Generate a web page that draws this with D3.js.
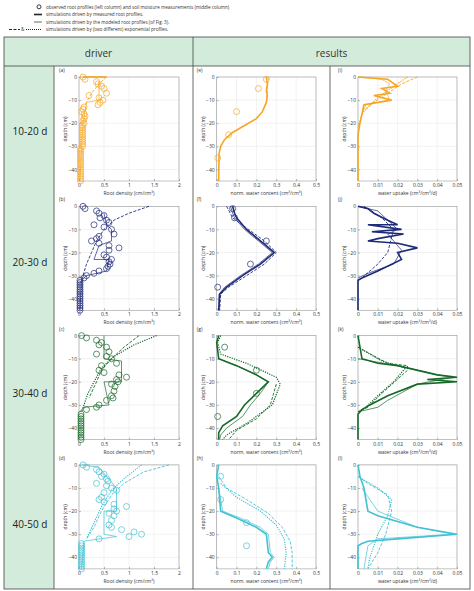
<!DOCTYPE html>
<html><head><meta charset="utf-8">
<script src="https://cdn.jsdelivr.net/npm/d3@7"></script>
<style>body{margin:0;background:#fff}text{font-family:"Open Sans",sans-serif}</style>
</head><body><svg id="c" width="474" height="591"></svg>
<script>
const rowLabels=["10-20 d","20-30 d","30-40 d","40-50 d"];
const colors=["#f6a623","#1f2a78","#17692a","#40c2d2"];
const depthTicks=[0,-10,-20,-30,-40];
const rootTicks=[0,0.5,1,1.5,2], wcTicks=[0,0.1,0.2,0.3,0.4,0.5], upTicks=[0,0.01,0.02,0.03,0.04,0.05];
const panelLetters=[["(a)","(e)","(i)"],["(b)","(f)","(j)"],["(c)","(g)","(k)"],["(d)","(h)","(l)"]];
const deep=[-21,-22,-23,-24,-25,-26,-27,-28,-29,-30,-31,-32,-33,-34,-35,-36,-37,-38,-39,-40,-41,-42,-43,-44,-45];
// observed roots [density, depth]
const obsA=[[0.08,0],[0.12,-1],[0.35,-2],[0.38,-3],[0.45,-4],[0.5,-5],[0.55,-7],[0.2,-8],[0.4,-9],[0.48,-10],[0.42,-11],[0.38,-12],[0.1,-13],[0.08,-14],[0.05,-15],[0.1,-16],[0.12,-17],[0.1,-18],[0.08,-19],[0.1,-20]].concat(deep.map((d,i)=>[i<10?0.07:0.03,d]));
const obsB=[[0.08,0],[0.12,-1],[0.35,-2],[0.4,-3],[0.5,-4],[0.42,-5],[0.55,-6],[0.6,-7],[0.3,-8],[0.5,-9],[0.65,-10],[0.7,-12],[0.4,-13],[0.35,-14],[0.25,-15],[0.4,-16],[0.6,-17],[0.8,-18],[0.6,-19],[0.5,-21],[0.55,-22],[0.65,-23],[0.6,-24],[0.62,-25],[0.58,-26],[0.55,-27],[0.4,-28],[0.3,-29],[0.15,-30],[0.1,-31]].concat(deep.slice(11).map(d=>[0.02,d]));
const obsC=[[0.05,0],[0.15,-1],[0.35,-2],[0.45,-3],[0.4,-4],[0.55,-5],[0.6,-7],[0.35,-8],[0.55,-9],[0.65,-10],[0.75,-12],[0.45,-13],[0.4,-15],[0.5,-16],[0.8,-17],[0.95,-18],[0.75,-19],[0.78,-20],[0.65,-21],[0.72,-22],[0.7,-24],[0.65,-26],[0.68,-27],[0.55,-28],[0.4,-30],[0.35,-31],[0.15,-32]].concat(deep.slice(13).map(d=>[0.04,d]));
const obsD=[[0.08,0],[0.15,-1],[0.35,-2],[0.4,-3],[0.5,-4],[0.45,-5],[0.55,-6],[0.58,-7],[0.35,-8],[0.55,-9],[0.65,-10],[0.75,-11],[0.5,-12],[0.45,-14],[0.4,-15],[0.5,-16],[0.7,-17],[0.95,-18],[0.7,-19],[0.75,-20],[0.6,-21],[0.7,-22],[0.65,-24],[0.6,-26],[0.65,-27],[0.85,-28],[1.1,-29],[1.25,-30],[1.0,-31],[0.4,-32]].concat(deep.slice(13).map(d=>[0.05,d]));
// root profiles: measured (thick), modeled (thin), exponential (dashed, dotted)
const rootA={thick:[[0.08,0],[0.55,0]],thin:[[0.4,-2],[0.4,-10],[0.15,-11],[0.12,-15],[0.08,-20],[0.05,-30],[0.02,-45]],dash:[[0.55,0],[0.4,-3],[0.25,-7],[0.12,-12]],dot:[]};
const rootB={thick:[],thin:[[0.5,-3],[0.55,-8],[0.65,-10],[0.65,-15],[0.4,-17],[0.3,-23],[0.6,-23],[0.55,-28],[0.15,-30],[0.05,-32],[0.02,-45]],dash:[[1.4,0],[1.0,-3],[0.7,-6],[0.5,-10],[0.35,-15],[0.25,-20],[0.15,-25],[0.08,-30],[0.03,-33]],dot:[]};
const rootC={thick:[],thin:[[0.5,0],[0.5,-10],[0.85,-11],[0.85,-20],[0.5,-20],[0.6,-30],[0.1,-31],[0.02,-33]],dash:[[1.2,0],[0.9,-5],[0.65,-10],[0.45,-15],[0.35,-20],[0.2,-27]],dot:[[1.55,0],[1.1,-4],[0.7,-9],[0.45,-14],[0.3,-20],[0.18,-25],[0.1,-30],[0.05,-33]]};
const rootD={thick:[],thin:[[0.05,0],[0.4,-1],[0.55,-5],[0.75,-10],[0.75,-20],[0.5,-20],[0.5,-30],[0.75,-31],[0.1,-33],[0.05,-45]],dash:[[1.8,0],[1.3,-3],[0.9,-8],[0.65,-13],[0.45,-20],[0.3,-27],[0.15,-32]],dot:[[1.25,0],[0.9,-6],[0.65,-11],[0.45,-18],[0.3,-25],[0.15,-32]]};
// water content
const obsE=[[0.25,-1],[0.21,-5],[0.1,-15],[0.06,-25],[0.005,-35]];
const obsF=[[0.08,-1],[0.09,-5],[0.25,-15],[0.17,-25],[0.005,-35]];
const obsG=[[0.04,-5],[0.2,-15],[0.2,-25],[0.005,-35]];
const obsH=[[0.02,-5],[0.02,-15],[0.15,-25],[0.15,-35]];
const wcE={thick:[[0.25,0],[0.255,-3],[0.25,-6],[0.255,-8],[0.25,-11],[0.23,-15],[0.2,-18],[0.14,-21],[0.08,-24],[0.04,-27],[0.02,-30],[0.012,-33],[0.01,-45]],thin:[],dash:[[0.26,0],[0.255,-6],[0.25,-11]],dot:[]};
const wcF={thick:[[0.08,0],[0.09,-3],[0.1,-5],[0.15,-10],[0.22,-15],[0.29,-20],[0.22,-25],[0.13,-30],[0.05,-35],[0.015,-38],[0.01,-45]],thin:[[0.07,0],[0.08,-3],[0.09,-5],[0.14,-10],[0.21,-15],[0.28,-20],[0.21,-25],[0.12,-30],[0.04,-35],[0.012,-38],[0.012,-45]],dash:[[0.05,0],[0.08,-5],[0.16,-10],[0.24,-15],[0.3,-20],[0.24,-25],[0.15,-30],[0.06,-35],[0.02,-38],[0.015,-45]],dot:[]};
const wcG={thick:[[0.01,0],[0.0,-3],[0.01,-10],[0.1,-13],[0.2,-17],[0.26,-20],[0.2,-25],[0.14,-30],[0.1,-35],[0.03,-39],[0.01,-42],[0.01,-45]],thin:[[0.01,-10],[0.1,-13],[0.2,-17],[0.26,-20],[0.22,-25],[0.17,-30],[0.13,-35],[0.05,-40],[0.02,-43],[0.015,-45]],dash:[[0.3,-21],[0.27,-30],[0.2,-36],[0.1,-41],[0.06,-45]],dot:[[0.02,0],[0.005,-3],[0.02,-8],[0.15,-12],[0.3,-18],[0.32,-21],[0.28,-30],[0.15,-38],[0.05,-43],[0.03,-45]]};
const wcH={thick:[[0.01,0],[0,-5],[0.01,-10],[0.02,-20],[0.1,-23],[0.2,-27],[0.25,-30],[0.26,-38],[0.28,-40],[0.26,-42],[0.25,-45]],thin:[[0.01,-10],[0.03,-20],[0.12,-23],[0.22,-27],[0.26,-30],[0.27,-38],[0.29,-40],[0.27,-42],[0.26,-45]],dash:[[0.01,-5],[0.05,-10],[0.15,-15],[0.26,-21],[0.33,-27],[0.37,-33],[0.38,-38],[0.38,-45]],dot:[[0.02,-8],[0.1,-14],[0.22,-20],[0.3,-26],[0.34,-32],[0.35,-38],[0.34,-45]]};
// water uptake
const upI={thick:[[0,0],[0.015,-1],[0.02,-4],[0.012,-5],[0.016,-7],[0.008,-8],[0.017,-10],[0.003,-12],[0.002,-16],[0.001,-20],[0,-25],[0,-45]],thin:[[0,0],[0.012,-1],[0.016,-3],[0.014,-6],[0.016,-10],[0.004,-12],[0.002,-16],[0,-22]],dash:[[0.03,0],[0.022,-3],[0.015,-7],[0.008,-11],[0.004,-14]],dot:[[0.025,0],[0.018,-4],[0.01,-9],[0.005,-13],[0.002,-16]]};
const upJ={thick:[[0,0],[0.005,-1],[0.008,-3],[0.015,-6],[0.02,-8],[0.005,-8],[0.022,-10],[0.007,-11],[0.023,-12],[0.01,-14],[0.005,-15],[0.02,-16],[0.03,-18],[0.02,-20],[0.022,-23],[0.01,-28],[0.002,-31],[0,-32],[0,-45]],thin:[[0,0],[0.01,-2],[0.02,-10],[0.015,-12],[0.022,-19],[0.018,-25],[0.005,-29],[0,-31]],dash:[[0.003,0],[0.012,-5],[0.018,-10],[0.015,-20],[0.01,-25],[0.002,-31]],dot:[]};
const upK={thick:[[0,0],[0.001,-5],[0.002,-10],[0.01,-12],[0.02,-13],[0.04,-17],[0.05,-18],[0.035,-19],[0.05,-20],[0.03,-21],[0.015,-26],[0.006,-30],[0.002,-32],[0,-34],[0,-45]],thin:[[0,-10],[0.02,-13],[0.04,-17],[0.048,-18],[0.03,-21],[0.015,-28],[0.01,-31],[0,-33]],dash:[[0,-5],[0.015,-12],[0.025,-13],[0.025,-15],[0.012,-25],[0.005,-31],[0,-33]],dot:[[0,-5],[0.012,-11],[0.024,-14],[0.018,-20],[0.01,-26],[0.004,-31],[0,-33]]};
const upL={thick:[[0,0],[0.001,-5],[0.003,-10],[0.005,-20],[0.01,-22],[0.03,-27],[0.05,-30],[0.02,-32],[0.005,-33],[0.002,-34],[0,-35],[0,-45]],thin:[[0.002,-10],[0.01,-20],[0.03,-27],[0.048,-30],[0.01,-32],[0.005,-35],[0.003,-45]],dash:[[0,-5],[0.005,-8],[0.015,-13],[0.017,-20],[0.014,-30],[0.01,-38],[0.005,-45]],dot:[[0,-5],[0.01,-10],[0.017,-15],[0.015,-22],[0.01,-30],[0.006,-40],[0.005,-45]]};

const roots=[rootA,rootB,rootC,rootD], obsR=[obsA,obsB,obsC,obsD];
const wcs=[wcE,wcF,wcG,wcH], obsW=[obsE,obsF,obsG,obsH];
const ups=[upI,upJ,upK,upL];

const svg=d3.select("#c");
// legend
const lg=svg.append("g").attr("font-size",4.6).attr("fill","#333");
const legTexts=["observed root profiles (left column) and soil moisture measurements (middle column)","simulations driven by measured root profiles.","simulations driven by the modeled root profiles (of Fig. 3).","simulations driven by (two different) exponential profiles."];
legTexts.forEach((t,i)=>lg.append("text").attr("x",46).attr("y",8.5+i*7.5).text(t));
lg.append("circle").attr("cx",39).attr("cy",6.8).attr("r",2).attr("fill","none").attr("stroke","#222").attr("stroke-width",0.9);
lg.append("line").attr("x1",34).attr("x2",42).attr("y1",14.5).attr("y2",14.5).attr("stroke","#222").attr("stroke-width",1.6);
lg.append("line").attr("x1",34).attr("x2",42).attr("y1",22).attr("y2",22).attr("stroke","#222").attr("stroke-width",0.7);
lg.append("line").attr("x1",9).attr("x2",20).attr("y1",29.5).attr("y2",29.5).attr("stroke","#222").attr("stroke-dasharray","3,1.5");
lg.append("text").attr("x",21).attr("y",31).text("&");
lg.append("line").attr("x1",26).attr("x2",42).attr("y1",29.5).attr("y2",29.5).attr("stroke","#222").attr("stroke-dasharray","1,1");

// table
const T={x0:4,x1:470,y0:37,yh:66,y1:589,cL:54,c1:193,c2:330};
const rowH=(T.y1-T.yh)/4;
const fill="#d3ebdb";
svg.append("rect").attr("x",T.x0).attr("y",T.y0).attr("width",T.x1-T.x0).attr("height",T.yh-T.y0).attr("fill",fill);
svg.append("rect").attr("x",T.x0).attr("y",T.yh).attr("width",T.cL-T.x0).attr("height",T.y1-T.yh).attr("fill",fill);
svg.append("text").attr("x",(T.x0+T.c1)/2).attr("y",57).attr("text-anchor","middle").attr("font-size",10).attr("fill","#333").text("driver");
svg.append("text").attr("x",(T.c1+T.x1)/2).attr("y",57).attr("text-anchor","middle").attr("font-size",10).attr("fill","#333").text("results");
rowLabels.forEach((t,i)=>svg.append("text").attr("x",(T.x0+T.cL)/2+1).attr("y",T.yh+rowH*i+rowH/2+4).attr("text-anchor","middle").attr("font-size",10).attr("fill","#222").text(t));
const lines=svg.append("g").attr("stroke","#444").attr("stroke-width",0.8);
lines.append("rect").attr("x",T.x0).attr("y",T.y0).attr("width",T.x1-T.x0).attr("height",T.y1-T.y0).attr("fill","none");
lines.append("line").attr("x1",T.x0).attr("x2",T.x1).attr("y1",T.yh).attr("y2",T.yh);
lines.append("line").attr("x1",T.c1).attr("x2",T.c1).attr("y1",T.y0).attr("y2",T.y1);
lines.append("line").attr("x1",T.c2).attr("x2",T.c2).attr("y1",T.yh).attr("y2",T.y1);
lines.append("line").attr("x1",T.cL).attr("x2",T.cL).attr("y1",T.yh).attr("y2",T.y1);

const colX=[[79,179],[216.7,316],[358,457]];
const domains=[[0,2],[0,0.5],[0,0.05]];
const ticksets=[rootTicks,wcTicks,upTicks];
const xlabels=["Root density (cm/cm³)","norm. water content (cm³/cm³)","water uptake (cm³/cm³/d)"];
const fmt=[d3.format(""),d3.format(""),d3.format("")];

function panel(r,c,lineSet,obs){
  const top=77+r*129.3, bot=top+104;
  const x=d3.scaleLinear().domain(domains[c]).range(colX[c]);
  const y=d3.scaleLinear().domain([0,-45]).range([top,bot]);
  const g=svg.append("g");
  // grid
  ticksets[c].forEach(t=>g.append("line").attr("x1",x(t)).attr("x2",x(t)).attr("y1",top).attr("y2",bot).attr("stroke","#e4e4e4").attr("stroke-width",0.5));
  depthTicks.forEach(t=>g.append("line").attr("x1",colX[c][0]).attr("x2",colX[c][1]).attr("y1",y(t)).attr("y2",y(t)).attr("stroke","#e4e4e4").attr("stroke-width",0.5));
  g.append("rect").attr("x",colX[c][0]).attr("y",top).attr("width",colX[c][1]-colX[c][0]).attr("height",bot-top).attr("fill","none").attr("stroke","#999").attr("stroke-width",0.6);
  const ax=g.append("g").attr("transform",`translate(0,${bot})`).call(d3.axisBottom(x).tickValues(ticksets[c]).tickSize(-2).tickPadding(2.5).tickFormat(d=>d===0?"0":String(d).replace(/^0\./,"0.")));
  const ay=g.append("g").attr("transform",`translate(${colX[c][0]},0)`).call(d3.axisLeft(y).tickValues(depthTicks).tickSize(-2).tickPadding(2));
  [ax,ay].forEach(a=>{a.select(".domain").remove();a.selectAll("line").attr("stroke","#777").attr("stroke-width",0.5);a.selectAll("text").attr("font-size",5).attr("fill","#333").attr("font-family","Open Sans");});
  g.append("text").attr("x",(colX[c][0]+colX[c][1])/2).attr("y",bot+14).attr("text-anchor","middle").attr("font-size",5).attr("fill","#333").text(xlabels[c]);
  g.append("text").attr("transform",`translate(${colX[c][0]-12},${(top+bot)/2}) rotate(-90)`).attr("text-anchor","middle").attr("font-size",5).attr("fill","#333").text("depth (cm)");
  g.append("text").attr("x",colX[c][0]-20).attr("y",top-5).attr("font-size",5).attr("fill","#333").text(panelLetters[r][c]);
  const col=colors[r];
  const ln=d3.line().x(d=>x(d[0])).y(d=>y(d[1]));
  const styles={thick:{w:1.6,da:null},thin:{w:0.7,da:null},dash:{w:0.9,da:"3,1.5"},dot:{w:1.2,da:"1.2,1.2"}};
  Object.keys(styles).forEach(k=>{ if(lineSet[k]&&lineSet[k].length) g.append("path").attr("d",ln(lineSet[k])).attr("fill","none").attr("stroke",col).attr("stroke-width",styles[k].w).attr("stroke-dasharray",styles[k].da); });
  if(obs) g.selectAll("circle.o").data(obs).join("circle").attr("cx",d=>x(d[0])).attr("cy",d=>y(d[1])).attr("r",3).attr("fill","none").attr("stroke",col).attr("stroke-width",0.7);
}
for(let r=0;r<4;r++){
  panel(r,0,roots[r],obsR[r]);
  panel(r,1,wcs[r],obsW[r]);
  panel(r,2,ups[r],null);
}
</script></body></html>
